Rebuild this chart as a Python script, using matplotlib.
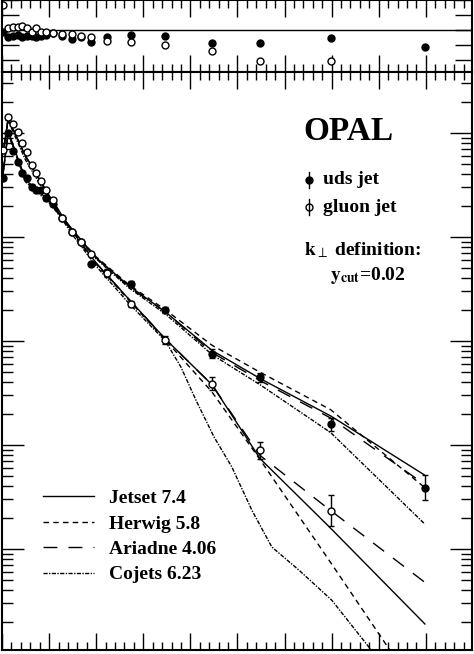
import numpy as np
import matplotlib
matplotlib.use("Agg")
import matplotlib.pyplot as plt
from matplotlib.ticker import MultipleLocator, LogLocator, NullFormatter

plt.rcParams['font.family'] = ['Liberation Serif', 'DejaVu Serif']
plt.rcParams['mathtext.fontset'] = 'stix'

# data x positions
x_uds = [0.02,0.13,0.23,0.34,0.42,0.53,0.63,0.72,0.82,0.93,1.08,1.27,1.48,1.67,1.88,2.22,2.73,3.47,4.46,5.48,6.98,8.98]
log_uds = [-0.43,0.0,-0.17,-0.28,-0.38,-0.43,-0.52,-0.55,-0.55,-0.62,-0.68,-0.82,-0.95,-1.05,-1.26,-1.34,-1.45,-1.70,-2.12,-2.35,-2.80,-3.41]
err_uds = [0.02]*15 + [0.03,0.03,0.03,0.04,0.04,0.06,0.12]
x_glu = x_uds[:21]
log_glu = [-0.16,0.15,0.09,0.01,-0.10,-0.18,-0.31,-0.38,-0.46,-0.55,-0.64,-0.82,-0.95,-1.05,-1.16,-1.35,-1.64,-1.99,-2.41,-3.05,-3.63]
err_glu = [0.02]*15 + [0.03,0.03,0.04,0.06,0.08,0.15]

# ratio panel
ratio_uds = [0.967,0.883,0.9,0.917,0.883,0.9,0.9,0.883,0.9,0.917,0.95,0.9,0.85,0.883,0.8,0.883,0.917,0.9,0.783,0.783,0.867,0.717]
ratio_glu = [1.417,1.033,1.05,1.05,1.067,1.033,0.967,1.033,0.967,0.967,0.95,0.933,0.933,0.9,0.883,0.817,0.8,0.75,0.65,0.483,0.483]

# model curves
x_mod = [0.02,0.13,0.5,1.0,1.5,2.0,2.7,3.47,4.46,5.48,6.98,8.98]
uds_models = {
    'Jetset 7.4':   [-0.40,0.02,-0.45,-0.65,-0.93,-1.20,-1.47,-1.72,-2.09,-2.36,-2.72,-3.29],
    'Herwig 5.8':   [-0.40,0.00,-0.46,-0.66,-0.94,-1.19,-1.46,-1.70,-2.04,-2.30,-2.66,-3.41],
    'Ariadne 4.06': [-0.40,0.01,-0.45,-0.66,-0.94,-1.20,-1.48,-1.72,-2.11,-2.38,-2.74,-3.38],
    'Cojets 6.23':  [-0.40,0.00,-0.47,-0.67,-0.95,-1.21,-1.49,-1.74,-2.13,-2.42,-2.88,-3.76],
}
glu_models = {
    'Jetset 7.4':   [-0.20,0.14,-0.22,-0.60,-0.95,-1.25,-1.60,-1.98,-2.42,-3.13,-3.80,-4.72],
    'Herwig 5.8':   [-0.20,0.14,-0.23,-0.61,-0.96,-1.26,-1.61,-1.99,-2.49,-3.14,-4.13,-5.47],
    'Ariadne 4.06': [-0.20,0.13,-0.22,-0.60,-0.95,-1.25,-1.60,-1.98,-2.42,-3.10,-3.63,-4.32],
}
x_cojets_glu = [0.02,0.13,0.5,1.0,1.5,2.0,2.7,3.47,3.8,4.12,4.5,4.88,5.31,5.73,6.3,7.0,7.84,8.3]
log_cojets_glu = [-0.20,0.12,-0.26,-0.64,-0.98,-1.28,-1.64,-2.00,-2.25,-2.57,-2.92,-3.21,-3.63,-3.98,-4.20,-4.49,-4.97,-5.3]
styles = {
    'Jetset 7.4': '-',
    'Herwig 5.8': (0, (4, 3)),
    'Ariadne 4.06': (0, (10, 8)),
    'Cojets 6.23': (0, (3, 1, 1, 1)),
}

W, H = 474, 654
fig = plt.figure(figsize=(W/100, H/100), dpi=100)
axt = fig.add_axes([2/W, 1-72/H, 1-4/W, 72/H])
axb = fig.add_axes([2/W, 4/H, 1-4/W, 578/H])

for ax in (axt, axb):
    ax.set_xlim(0.0, 9.98)
    ax.xaxis.set_major_locator(MultipleLocator(1))
    ax.xaxis.set_minor_locator(MultipleLocator(0.2))
    ax.tick_params(which='both', direction='in', top=True, right=True,
                   labelbottom=False, labelleft=False)
    ax.tick_params(which='major', length=12, width=1)
    ax.tick_params(which='minor', length=6, width=1)
    for s in ax.spines.values():
        s.set_linewidth(1.5)

# ratio panel
axt.set_ylim(0.3, 1.5)
axt.yaxis.set_major_locator(MultipleLocator(0.25))
axt.axhline(1.0, color='black', lw=1)
axt.plot(x_uds, ratio_uds, 'o', color='black', ms=5)
axt.plot(x_glu, ratio_glu, 'o', mfc='white', mec='black', ms=5)

# main panel
axb.set_yscale('log')
axb.set_ylim(10**-4.97, 10**0.587)
axb.yaxis.set_major_locator(LogLocator(base=10, numticks=10))
axb.yaxis.set_minor_locator(LogLocator(base=10, subs=np.arange(2, 10), numticks=10))
axb.yaxis.set_minor_formatter(NullFormatter())
axb.tick_params(axis='y', which='major', length=16)
axb.tick_params(axis='y', which='minor', length=8)

xm = np.array(x_mod)
for name, vals in uds_models.items():
    axb.plot(xm, 10**np.array(vals), color='black', lw=1, linestyle=styles[name])
for name, vals in glu_models.items():
    axb.plot(xm, 10**np.array(vals), color='black', lw=1, linestyle=styles[name], label=name)
axb.plot(x_cojets_glu, 10**np.array(log_cojets_glu), color='black', lw=1,
         linestyle=styles['Cojets 6.23'], label='Cojets 6.23')

lu = np.array(log_uds); eu = np.array(err_uds)
lg = np.array(log_glu); eg = np.array(err_glu)
axb.errorbar(x_uds, 10**lu, yerr=[10**lu - 10**(lu-eu), 10**(lu+eu) - 10**lu],
             fmt='o', color='black', ms=5, capsize=2, elinewidth=1, zorder=5)
axb.errorbar(x_glu, 10**lg, yerr=[10**lg - 10**(lg-eg), 10**(lg+eg) - 10**lg],
             fmt='o', mfc='white', mec='black', ecolor='black', ms=5, capsize=2,
             elinewidth=1, zorder=5)

# texts
fig.text(348/W, 1-132/H, 'OPAL', fontsize=24, fontweight='bold', ha='center', va='center')
fig.text(323/W, 1-180/H, 'uds jet', fontsize=14, fontweight='bold', va='center')
fig.text(323/W, 1-207/H, 'gluon jet', fontsize=14, fontweight='bold', va='center')
fig.text(304/W, 1-250/H, r'$\mathbf{k}_{\perp}$ definition:', fontsize=14, fontweight='bold', va='center')
fig.text(330/W, 1-276/H, r'$\mathbf{y}_{\mathbf{cut}}$=0.02', fontsize=14, fontweight='bold', va='center')
fig.lines.append(plt.Line2D([309/W], [1-180/H], marker='o', color='black', ms=5, transform=fig.transFigure))
fig.lines.append(plt.Line2D([309/W, 309/W], [1-172/H, 1-188/H], color='black', lw=1, transform=fig.transFigure))
fig.lines.append(plt.Line2D([309/W], [1-207/H], marker='o', mfc='white', mec='black', ms=5, transform=fig.transFigure))
fig.lines.append(plt.Line2D([309/W, 309/W], [1-199/H, 1-215/H], color='black', lw=1, transform=fig.transFigure))

leg = axb.legend(loc='lower left', bbox_to_anchor=(0.05, 0.085), frameon=False,
                 prop={'size': 14, 'weight': 'bold'}, handlelength=2.6, labelspacing=0.4)

fig.savefig('out.png', dpi=100)
